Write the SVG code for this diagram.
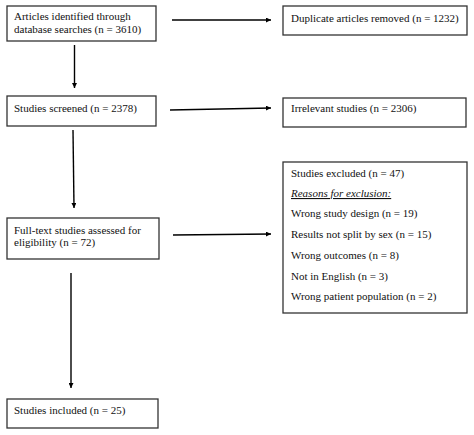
<svg xmlns="http://www.w3.org/2000/svg" width="474" height="435" viewBox="0 0 474 435">
<defs>
<marker id="ah" viewBox="0 0 10 10" refX="10" refY="5" markerWidth="5" markerHeight="5" markerUnits="userSpaceOnUse" orient="auto"><path d="M0,0 L10,5 L0,10 z" fill="#000"/></marker>
</defs>
<style>
.box{fill:#fff;stroke:#333;stroke-width:1.3}
.t{font-size:11px;fill:#111}
.c{stroke:#000;stroke-width:1.4;fill:none;marker-end:url(#ah)}
</style>
<rect width="474" height="435" fill="#fff"/>
<g font-family="Liberation Serif, Times New Roman, serif">
<g id="n1"><rect class="box" x="7" y="6" width="149" height="35"/><text class="t" x="14" y="20">Articles identified through</text><text class="t" x="14" y="33">database searches (n = 3610)</text></g>
<g id="n2"><rect class="box" x="283" y="6" width="184" height="29"/><text class="t" x="291" y="22">Duplicate articles removed (n = 1232)</text></g>
<g id="n3"><rect class="box" x="7" y="96" width="149" height="30"/><text class="t" x="14" y="112">Studies screened (n = 2378)</text></g>
<g id="n4"><rect class="box" x="283" y="98" width="183" height="29"/><text class="t" x="291" y="112">Irrelevant studies (n = 2306)</text></g>
<g id="n5"><rect class="box" x="7" y="218" width="152" height="41"/><text class="t" x="14" y="234">Full-text studies assessed for</text><text class="t" x="14" y="246">eligibility (n = 72)</text></g>
<g id="n6"><rect class="box" x="283" y="162" width="184" height="151"/>
<text class="t" x="291" y="177">Studies excluded (n = 47)</text>
<text class="t" x="291" y="197" font-style="italic" text-decoration="underline">Reasons for exclusion:</text>
<text class="t" x="291" y="217">Wrong study design (n = 19)</text>
<text class="t" x="291" y="238">Results not split by sex (n = 15)</text>
<text class="t" x="291" y="259">Wrong outcomes (n = 8)</text>
<text class="t" x="291" y="280">Not in English (n = 3)</text>
<text class="t" x="291" y="300">Wrong patient population (n = 2)</text></g>
<g id="n7"><rect class="box" x="7" y="399" width="151" height="29"/><text class="t" x="14" y="414">Studies included (n = 25)</text></g>
</g>
<g id="connectors">
<line class="c" x1="74.5" y1="45" x2="74.5" y2="88"/>
<line class="c" x1="172" y1="20" x2="271" y2="20"/>
<line class="c" x1="170" y1="110" x2="271" y2="108"/>
<line class="c" x1="73" y1="130" x2="74" y2="208"/>
<line class="c" x1="173" y1="235" x2="271" y2="234"/>
<line class="c" x1="71" y1="273" x2="71" y2="388"/>
</g>
</svg>
